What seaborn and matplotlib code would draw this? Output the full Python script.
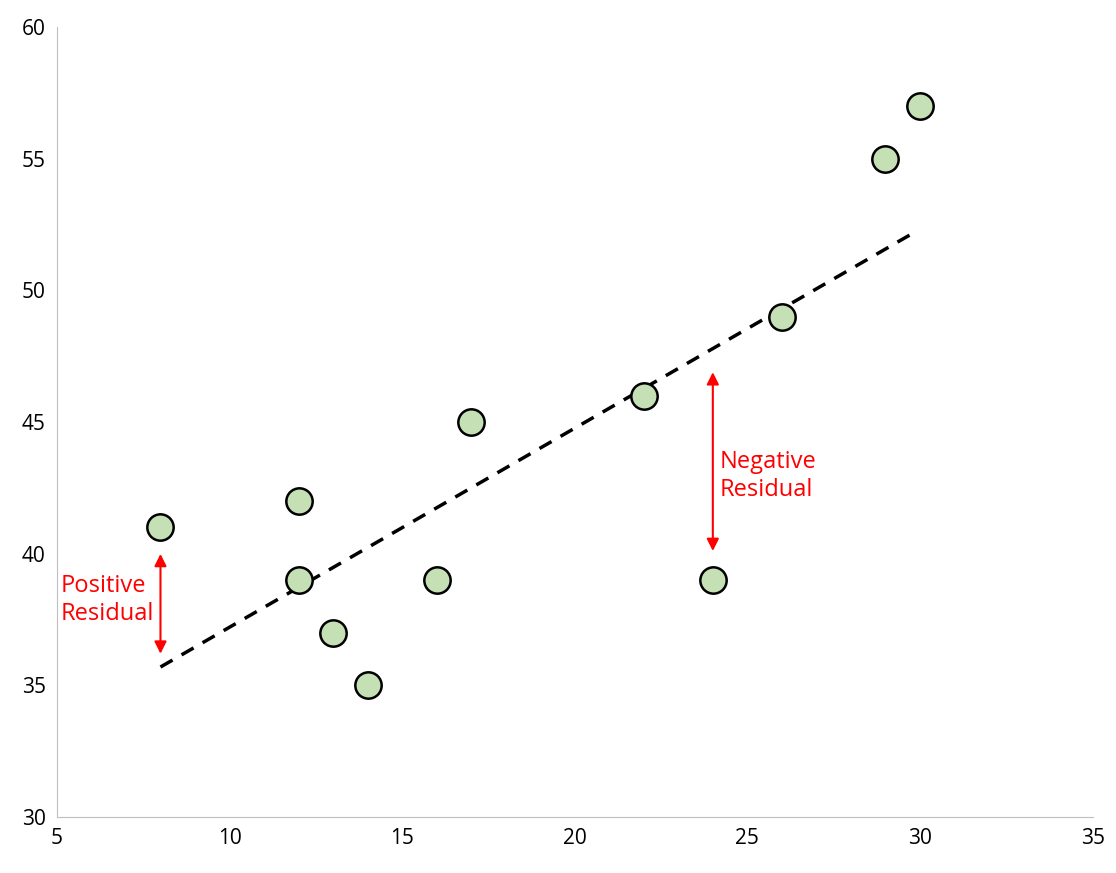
import matplotlib
matplotlib.use("Agg")
import matplotlib.pyplot as plt
import seaborn as sns
import pandas as pd

x_vals = [8, 12, 12, 13, 14, 16, 17, 22, 24, 26, 29, 30]
y_vals = [41, 42, 39, 37, 35, 39, 45, 46, 39, 49, 55, 57]
trend_x = [8, 29.7]
trend_y = [35.7, 52.1]
pos_arrow = (8, 40.1, 36.1)
neg_arrow = (24, 47.0, 40.0)
x_ticks = [5, 10, 15, 20, 25, 30, 35]
y_ticks = [30, 35, 40, 45, 50, 55, 60]

plt.rcParams["font.family"] = "Open Sans"
fig = plt.figure(figsize=(11.16, 8.73), dpi=100)
ax = fig.add_axes([0.051, 0.064, 0.928, 0.905])
df = pd.DataFrame({"x": x_vals, "y": y_vals})
sns.lineplot(x=trend_x, y=trend_y, ax=ax, color="black", linestyle=(0, (4, 3)), linewidth=2.5)
sns.scatterplot(data=df, x="x", y="y", ax=ax, s=360, color="#c5e0b4", edgecolor="black", linewidth=1.8, zorder=3)
for xa, y1, y2 in [pos_arrow, neg_arrow]:
    ax.annotate("", xy=(xa, y2), xytext=(xa, y1),
                arrowprops=dict(arrowstyle="<|-|>", color="red", lw=1.5, mutation_scale=18))
ax.text(5.1, 38.25, "Positive\nResidual", color="red", fontsize=17, va="center", linespacing=1.25)
ax.text(24.2, 42.95, "Negative\nResidual", color="red", fontsize=17, va="center", linespacing=1.25)
ax.set_xlim(5, 35)
ax.set_ylim(30, 60)
ax.set_xticks(x_ticks)
ax.set_yticks(y_ticks)
ax.tick_params(length=0, labelsize=15, pad=8)
ax.set_xlabel("")
ax.set_ylabel("")
for s in ["top", "right"]:
    ax.spines[s].set_visible(False)
for s in ["left", "bottom"]:
    ax.spines[s].set_color("#bfbfbf")
fig.savefig("out.png", dpi=100)
